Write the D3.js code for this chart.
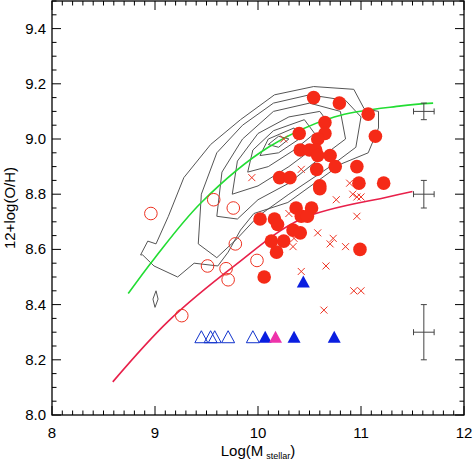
<!DOCTYPE html>
<html><head><meta charset="utf-8">
<script src="https://cdn.jsdelivr.net/npm/d3@7"></script>
<style>body{margin:0;background:#fff}</style></head>
<body><svg id="c" width="474" height="460"></svg>
<script>
const filledCircles=[[10.54,9.15],[10.79,9.13],[11.07,9.09],[11.14,9.01],[10.65,9.06],[10.40,9.02],[10.65,9.02],[10.58,9.00],[10.41,8.96],[10.50,8.96],[10.56,8.96],[10.58,8.94],[10.70,8.94],[10.75,8.90],[10.96,8.90],[10.57,8.89],[10.21,8.86],[10.31,8.86],[10.98,8.84],[11.22,8.84],[10.60,8.83],[10.60,8.82],[10.37,8.75],[10.52,8.75],[10.02,8.71],[10.16,8.71],[10.42,8.72],[10.48,8.72],[10.19,8.69],[10.34,8.67],[10.41,8.66],[10.13,8.63],[10.25,8.63],[10.18,8.59],[10.99,8.60],[10.06,8.50]];
const openCircles=[[8.96,8.73],[9.57,8.78],[9.76,8.75],[9.78,8.62],[9.51,8.54],[9.69,8.53],[9.71,8.49],[9.99,8.56],[9.26,8.36]];
const crosses=[[10.25,9.00],[9.94,8.86],[10.42,8.89],[10.30,8.73],[10.35,8.64],[10.34,8.61],[10.58,8.66],[10.73,8.64],[10.70,8.62],[10.85,8.61],[10.76,8.78],[10.92,8.80],[10.96,8.79],[11.00,8.79],[10.89,8.84],[10.96,8.72],[10.42,8.52],[10.66,8.54],[10.93,8.45],[11.00,8.45],[10.64,8.38]];
const openTriangles=[[9.45,8.28],[9.54,8.28],[9.58,8.28],[9.71,8.28],[9.95,8.28]];
const blueTriangles=[[10.07,8.28],[10.35,8.28],[10.74,8.28],[10.44,8.48]];
const magentaTriangles=[[10.17,8.28]];
const greenCurve=[[8.74,8.44],[9.0,8.57],[9.45,8.77],[10.10,8.97],[10.74,9.08],[11.39,9.12],[11.70,9.13]];
const redCurve=[[8.59,8.12],[9.13,8.34],[9.77,8.54],[10.42,8.71],[11.26,8.79],[11.50,8.81]];
const errorBars=[[11.61,9.10,0.1,0.03],[11.61,8.80,0.1,0.05],[11.61,8.30,0.1,0.1]];
const contours=[
[[8.86,8.58],[8.93,8.63],[9.01,8.62],[9.13,8.72],[9.28,8.86],[9.54,8.98],[9.83,9.07],[10.16,9.16],[10.54,9.19],[10.93,9.18],[11.03,9.11],[11.17,9.10],[11.17,9.04],[11.07,8.95],[10.81,8.91],[10.29,8.77],[9.96,8.73],[9.83,8.67],[9.71,8.59],[9.61,8.54],[9.38,8.55],[9.22,8.50],[8.99,8.54],[8.88,8.58]],
[[9.42,8.62],[9.45,8.80],[9.6,8.95],[9.85,9.05],[10.15,9.13],[10.5,9.16],[10.85,9.14],[11.0,9.08],[10.95,8.97],[10.7,8.90],[10.3,8.80],[10.0,8.72],[9.8,8.64],[9.6,8.57]],
[[9.6,8.72],[9.65,8.88],[9.85,9.0],[10.15,9.1],[10.5,9.13],[10.8,9.1],[10.85,9.0],[10.6,8.93],[10.3,8.84],[10.0,8.78],[9.8,8.71]],
[[9.75,8.80],[9.8,8.92],[10.0,9.02],[10.3,9.08],[10.6,9.1],[10.7,9.05],[10.55,8.97],[10.3,8.90],[10.0,8.83]],
[[9.9,8.88],[9.95,8.96],[10.15,9.03],[10.45,9.07],[10.55,9.02],[10.35,8.96],[10.1,8.90]],
[[10.02,8.94],[10.1,9.0],[10.35,9.04],[10.4,9.0],[10.2,8.95]],
[[10.1,8.98],[10.2,9.01],[10.3,9.0],[10.2,8.97]],
[[9.0,8.39],[8.98,8.42],[9.01,8.45],[9.03,8.42]]];
const xTicks=[8,9,10,11,12];
const yTicks=[8.0,8.2,8.4,8.6,8.8,9.0,9.2,9.4];

const svg=d3.select("#c");
const x=d3.scaleLinear().domain([8,12]).range([52,464]);
const y=d3.scaleLinear().domain([8,9.5]).range([415,1]);
const g=svg.append("g");
const font="Helvetica, Arial, 'Liberation Sans', sans-serif";

g.selectAll(".ct").data(contours).join("path").attr("fill","none").attr("stroke","#555").attr("stroke-width",1)
 .attr("d",d3.line().x(d=>x(d[0])).y(d=>y(d[1])).curve(d3.curveLinearClosed));
const ln=d3.line().x(d=>x(d[0])).y(d=>y(d[1])).curve(d3.curveCatmullRom);
g.append("path").attr("d",ln(greenCurve)).attr("fill","none").attr("stroke","#22dd33").attr("stroke-width",1.6);
g.append("path").attr("d",ln(redCurve)).attr("fill","none").attr("stroke","#e8204a").attr("stroke-width",1.6);
g.selectAll(".oc").data(openCircles).join("circle").attr("cx",d=>x(d[0])).attr("cy",d=>y(d[1])).attr("r",6.3).attr("fill","none").attr("stroke","#ee3322").attr("stroke-width",1);
const cs=3.5;
g.selectAll(".cx").data(crosses).join("path").attr("d",d=>{const a=x(d[0]),b=y(d[1]);return `M${a-cs},${b-cs}L${a+cs},${b+cs}M${a-cs},${b+cs}L${a+cs},${b-cs}`}).attr("stroke","#ee3322").attr("stroke-width",1);
g.selectAll(".fc").data(filledCircles).join("circle").attr("cx",d=>x(d[0])).attr("cy",d=>y(d[1])).attr("r",6.8).attr("fill","#f52a17");
const tri=d=>{const a=x(d[0]),b=y(d[1]);return `M${a},${b-7}L${a+6.5},${b+5}L${a-6.5},${b+5}Z`};
g.selectAll(".ot").data(openTriangles).join("path").attr("d",tri).attr("fill","none").attr("stroke","#1133cc").attr("stroke-width",1);
g.selectAll(".bt").data(blueTriangles).join("path").attr("d",tri).attr("fill","#0a1ee0");
g.selectAll(".mt").data(magentaTriangles).join("path").attr("d",tri).attr("fill","#ee33aa");
errorBars.forEach(([cx,cy,dx,dy])=>{
  const p=`M${x(cx-dx)},${y(cy)}H${x(cx+dx)}M${x(cx)},${y(cy-dy)}V${y(cy+dy)}M${x(cx-dx)},${y(cy)-3}v6M${x(cx+dx)},${y(cy)-3}v6M${x(cx)-3},${y(cy-dy)}h6M${x(cx)-3},${y(cy+dy)}h6`;
  g.append("path").attr("d",p).attr("stroke","#444").attr("fill","none").attr("stroke-width",1);
});
svg.append("rect").attr("x",52).attr("y",1).attr("width",412).attr("height",414).attr("fill","none").attr("stroke","#000").attr("stroke-width",1.3);
const xminor=d3.range(8,12.001,0.1), yminor=d3.range(8,9.5001,0.05);
const tk=svg.append("g").attr("stroke","#000").attr("stroke-width",1);
xminor.forEach(v=>{const big=Math.abs(v-Math.round(v))<1e-6, L=big?9:4.5;
  tk.append("line").attr("x1",x(v)).attr("x2",x(v)).attr("y1",415).attr("y2",415-L);
  tk.append("line").attr("x1",x(v)).attr("x2",x(v)).attr("y1",1).attr("y2",1+L);});
yminor.forEach(v=>{const big=Math.abs(v*5-Math.round(v*5))<1e-6, L=big?9:4.5;
  tk.append("line").attr("y1",y(v)).attr("y2",y(v)).attr("x1",52).attr("x2",52+L);
  tk.append("line").attr("y1",y(v)).attr("y2",y(v)).attr("x1",464).attr("x2",464-L);});
svg.selectAll(".xl").data(xTicks).join("text").attr("x",d=>x(d)).attr("y",438).attr("text-anchor","middle").attr("font-family",font).attr("font-size",15).text(d=>d);
svg.selectAll(".yl").data(yTicks).join("text").attr("x",46).attr("y",d=>y(d)+5).attr("text-anchor","end").attr("font-family",font).attr("font-size",15).text(d=>d.toFixed(1));
const xt=svg.append("text").attr("x",258).attr("y",456).attr("text-anchor","middle").attr("font-family",font).attr("font-size",15);
xt.append("tspan").text("Log(M");
xt.append("tspan").attr("font-size",9).attr("dy",3).attr("dx",3).text("stellar");
xt.append("tspan").attr("dy",-3).text(")");
svg.append("text").attr("transform","translate(15,208) rotate(-90)").attr("text-anchor","middle").attr("font-family",font).attr("font-size",15).text("12+log(O/H)");
</script></body></html>
